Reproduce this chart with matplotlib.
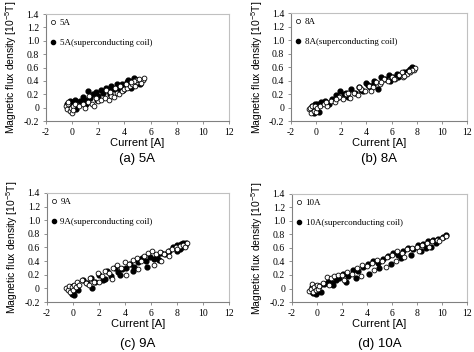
import numpy as np
import matplotlib
matplotlib.use("Agg")
import matplotlib.pyplot as plt
from matplotlib.lines import Line2D

plt.rcParams["axes.unicode_minus"] = False
plt.rcParams["mathtext.fontset"] = "custom"
plt.rcParams["mathtext.rm"] = "Liberation Sans"
plt.rcParams["mathtext.it"] = "Liberation Sans"

# (a) 5A
a_open_x = [-0.5, -0.4, -0.3, -0.2, -0.1, 0.0, 0.05, 0.1, 0.2, -0.35, 0.5, 0.8, 1.0, 1.2, 1.5, 1.7, 2.0, 2.2,
            2.5, 2.8, 3.0, 3.2, 3.4, 3.6, 3.8, 4.0, 4.2, 4.4, 4.6, 4.8, 5.0, 5.2, 5.4, 5.5, 5.3, 4.9, 1.3, 2.6,
            3.3, 4.1, 4.7, 5.1, 2.9, 1.8, 3.7, 4.5]
a_open_y = [0.02, -0.02, 0.05, -0.05, 0.0, -0.08, 0.03, -0.04, 0.06, 0.08, 0.02, 0.05, 0.0, 0.08, 0.05, 0.03, 0.1, 0.12,
            0.15, 0.12, 0.18, 0.16, 0.22, 0.2, 0.25, 0.28, 0.3, 0.32, 0.35, 0.33, 0.38, 0.4, 0.42, 0.44, 0.37, 0.42, 0.18, 0.27,
            0.3, 0.36, 0.4, 0.43, 0.23, 0.15, 0.32, 0.38]
a_fill_x = [-0.4, -0.3, -0.2, -0.1, 0.0, 0.1, 0.2, 0.3, -0.1, 0.15, 0.6, 0.8, 1.0, 1.2, 1.4, 1.6, 1.8, 2.0, 2.2,
            2.4, 2.6, 2.8, 3.0, 3.2, 3.4, 3.6, 3.8, 4.0, 4.2, 4.4, 4.6, 4.8, 5.0, 4.7, 5.2, 3.9, 2.9, 1.9, 1.1, 4.5,
            4.9, 5.1, 4.3, 3.5]
a_fill_y = [0.05, 0.0, 0.1, 0.05, 0.08, 0.0, 0.12, -0.02, -0.03, 0.07, 0.1, 0.16, 0.12, 0.25, 0.15, 0.2, 0.24, 0.18, 0.26,
            0.22, 0.3, 0.25, 0.32, 0.28, 0.35, 0.3, 0.36, 0.32, 0.38, 0.34, 0.4, 0.38, 0.42, 0.44, 0.36, 0.27, 0.2, 0.12, 0.05, 0.3,
            0.35, 0.4, 0.42, 0.26]

# (b) 8A
b_open_x = [-0.6, -0.5, -0.4, -0.3, -0.2, -0.1, 0.0, 0.1, 0.3, 0.6, 0.9, 1.2, 1.5, 1.8, 2.1, 2.4, 2.7, 3.0,
            3.3, 3.6, 3.9, 4.2, 4.5, 4.8, 5.1, 5.4, 5.7, 6.0, 6.3, 6.6, 6.9, 7.2, 7.5, 7.8, 7.9, 7.6, 7.0, 6.2,
            5.2, 4.4, 3.4, 2.5, 1.6, 0.8, 6.8, 7.4]
b_open_y = [-0.02, 0.0, -0.08, 0.03, -0.05, 0.02, -0.06, 0.0, 0.03, 0.05, 0.02, 0.1, 0.08, 0.15, 0.12, 0.2, 0.14, 0.22,
            0.18, 0.28, 0.25, 0.32, 0.3, 0.38, 0.35, 0.42, 0.4, 0.45, 0.43, 0.48, 0.46, 0.5, 0.52, 0.56, 0.58, 0.55, 0.47, 0.42,
            0.38, 0.25, 0.3, 0.22, 0.12, 0.08, 0.52, 0.54]
b_fill_x = [-0.3, -0.2, -0.1, 0.0, 0.1, 0.2, -0.15, 0.05, 0.4, 0.7, 1.0, 1.3, 1.6, 1.9, 2.2, 2.5, 2.8, 3.1,
            3.4, 3.7, 4.0, 4.3, 4.6, 4.9, 5.2, 5.5, 5.8, 6.1, 6.4, 6.7, 7.0, 7.3, 7.6, 7.5, 7.1, 6.5, 5.9, 4.5,
            3.6, 2.4, 1.7, 0.9, 6.9, 7.7, 4.1]
b_fill_y = [0.02, -0.04, 0.05, -0.02, 0.03, -0.06, -0.08, 0.06, 0.08, 0.1, 0.06, 0.12, 0.18, 0.24, 0.2, 0.16, 0.28, 0.22,
            0.3, 0.24, 0.36, 0.3, 0.4, 0.28, 0.46, 0.42, 0.48, 0.46, 0.5, 0.48, 0.52, 0.54, 0.6, 0.57, 0.5, 0.45, 0.4, 0.33,
            0.26, 0.22, 0.15, 0.07, 0.5, 0.58, 0.34]

# (c) 9A
c_open_x = [-0.5, -0.4, -0.3, -0.2, -0.1, 0.0, 0.1, 0.2, 0.3, 0.5, 0.7, 1.0, 1.3, 1.6, 1.9, 2.2, 2.5, 2.8,
            3.1, 3.4, 3.7, 4.0, 4.3, 4.6, 4.9, 5.2, 5.5, 5.8, 6.1, 6.4, 6.7, 7.0, 7.3, 7.6, 7.9, 8.2, 8.5, 8.8,
            8.6, 8.0, 1.2, 2.0, 3.0, 4.1, 5.0, 6.2, 6.8, 7.4]
c_open_y = [0.0, -0.02, 0.03, -0.05, 0.02, -0.03, 0.05, 0.02, 0.1, 0.05, 0.12, 0.08, 0.15, 0.1, 0.22, 0.18, 0.26, 0.22,
            0.3, 0.34, 0.3, 0.38, 0.36, 0.42, 0.45, 0.4, 0.48, 0.52, 0.55, 0.5, 0.53, 0.5, 0.55, 0.58, 0.6, 0.62, 0.64, 0.66,
            0.6, 0.58, 0.05, 0.1, 0.14, 0.2, 0.28, 0.35, 0.4, 0.48]
c_fill_x = [-0.2, -0.1, 0.0, 0.05, 0.1, -0.05, 0.15, 0.0, 0.4, 0.8, 1.1, 1.4, 1.7, 2.0, 2.3, 2.6, 2.9, 3.2,
            3.5, 3.8, 4.1, 4.4, 4.7, 5.0, 5.3, 5.6, 5.9, 6.2, 6.5, 6.8, 7.1, 7.4, 7.7, 8.0, 8.1, 8.2, 8.3, 8.4,
            8.5, 8.6, 8.7, 8.0, 1.5, 2.5, 3.6, 4.6, 5.7, 6.6]
c_fill_y = [-0.02, 0.02, -0.06, 0.0, -0.1, -0.08, 0.03, 0.04, -0.02, 0.12, 0.08, 0.15, 0.1, 0.2, 0.12, 0.26, 0.18, 0.3,
            0.24, 0.28, 0.3, 0.36, 0.32, 0.38, 0.45, 0.4, 0.46, 0.43, 0.48, 0.52, 0.5, 0.55, 0.6, 0.55, 0.62, 0.58, 0.65, 0.6,
            0.66, 0.62, 0.67, 0.63, 0.0, 0.14, 0.2, 0.25, 0.32, 0.42]

# (d) 10A
d_open_x = [-0.6, -0.5, -0.4, -0.3, -0.2, -0.1, 0.0, 0.1, 0.2, 0.5, 0.8, 1.1, 1.4, 1.7, 2.0, 2.4, 2.8, 3.2,
            3.6, 4.0, 4.4, 4.8, 5.2, 5.6, 6.0, 6.4, 6.8, 7.2, 7.6, 8.0, 8.4, 8.8, 9.2, 9.6, 10.0, 10.3, 9.8, 9.0,
            1.0, 2.2, 3.5, 4.6, 5.5, 6.3, 7.0, 8.2]
d_open_y = [-0.03, 0.0, 0.07, -0.05, 0.02, -0.02, 0.05, 0.0, 0.03, 0.08, 0.17, 0.15, 0.18, 0.2, 0.2, 0.25, 0.22, 0.3,
            0.35, 0.33, 0.38, 0.42, 0.4, 0.47, 0.5, 0.55, 0.52, 0.58, 0.6, 0.62, 0.65, 0.67, 0.7, 0.72, 0.75, 0.78, 0.7, 0.62,
            0.05, 0.12, 0.18, 0.28, 0.32, 0.4, 0.47, 0.56]
d_fill_x = [-0.5, -0.4, -0.3, -0.2, -0.1, 0.0, 0.1, 0.2, 0.3, 0.6, 0.9, 1.2, 1.5, 1.8, 2.1, 2.5, 2.9, 3.3,
            3.7, 4.1, 4.5, 4.9, 5.3, 5.7, 6.1, 6.5, 6.9, 7.3, 7.7, 8.1, 8.5, 8.9, 9.3, 9.7, 10.1, 10.3, 9.5, 8.7,
            1.3, 2.3, 3.1, 4.2, 5.0, 5.9, 6.7, 7.5, 8.3, 9.1]
d_fill_y = [-0.04, 0.02, -0.06, 0.03, -0.08, 0.0, -0.03, 0.04, -0.05, 0.06, 0.1, 0.08, 0.12, 0.15, 0.22, 0.18, 0.28, 0.26,
            0.32, 0.36, 0.4, 0.38, 0.44, 0.48, 0.52, 0.5, 0.56, 0.6, 0.58, 0.64, 0.66, 0.7, 0.72, 0.74, 0.76, 0.79, 0.68, 0.6,
            0.05, 0.1, 0.15, 0.22, 0.3, 0.37, 0.45, 0.5, 0.55, 0.62]

x_ticks = [-2, 0, 2, 4, 6, 8, 10, 12]
x_tick_labels = ["-2", "0", "2", "4", "6", "8", "10", "12"]
y_ticks = [-0.2, 0, 0.2, 0.4, 0.6, 0.8, 1.0, 1.2, 1.4]
y_tick_labels = ["-0.2", "0", "0.2", "0.4", "0.6", "0.8", "1.0", "1.2", "1.4"]

panels = [
    ("5A", "(a) 5A", a_open_x, a_open_y, a_fill_x, a_fill_y, [0.097, 0.656, 0.386, 0.304], -0.35),
    ("8A", "(b) 8A", b_open_x, b_open_y, b_fill_x, b_fill_y, [0.614, 0.656, 0.371, 0.307], -0.35),
    ("9A", "(c) 9A", c_open_x, c_open_y, c_fill_x, c_fill_y, [0.099, 0.142, 0.384, 0.310], -0.385),
    ("10A", "(d) 10A", d_open_x, d_open_y, d_fill_x, d_fill_y, [0.616, 0.142, 0.369, 0.307], -0.385),
]

serif = "Liberation Serif"
sans = "Liberation Sans"

fig = plt.figure(figsize=(4.74, 3.52), dpi=100)

for name, caption, ox, oy, fx, fy, rect, cap_y in panels:
    ax = fig.add_axes(rect)
    ax.scatter(ox, oy, s=12, facecolors="white", edgecolors="black", linewidths=0.6, zorder=3)
    ax.scatter(fx, fy, s=12, color="black", zorder=2)
    ax.set_xlim(-2, 12)
    ax.set_ylim(-0.2, 1.4)
    ax.set_xticks(x_ticks)
    ax.set_xticklabels(x_tick_labels, fontfamily=serif, fontsize=7)
    ax.set_yticks(y_ticks)
    ax.set_yticklabels(y_tick_labels, fontfamily=serif, fontsize=7)
    ax.tick_params(length=2, width=0.6, color="#808080", pad=3)
    for side in ["top", "right"]:
        ax.spines[side].set_color("#c0c0c0")
        ax.spines[side].set_linewidth(0.8)
    for side in ["left", "bottom"]:
        ax.spines[side].set_color("#808080")
        ax.spines[side].set_linewidth(0.8)

    ax.set_xlabel("Current [A]", fontfamily=sans, fontsize=8, labelpad=1)
    ax.set_ylabel("Magnetic flux density [10$^{-5}$T]", fontfamily=sans, fontsize=7.5, labelpad=3)

    handles = [
        Line2D([], [], linestyle="none", marker="o", markersize=3, markerfacecolor="white",
               markeredgecolor="black", markeredgewidth=0.5),
        Line2D([], [], linestyle="none", marker="o", markersize=3, color="black"),
    ]
    ax.legend(handles, [name, name + "(superconducting coil)"], loc="upper left",
              prop={"family": serif, "size": 6.5}, frameon=False, handlelength=0.6,
              handletextpad=0.4, labelspacing=1.3, borderaxespad=0.3, borderpad=0.2)

    ax.text(0.5, cap_y, caption, transform=ax.transAxes, ha="center", va="center",
            fontfamily=sans, fontsize=9.5)

fig.savefig("out.png", dpi=100)
